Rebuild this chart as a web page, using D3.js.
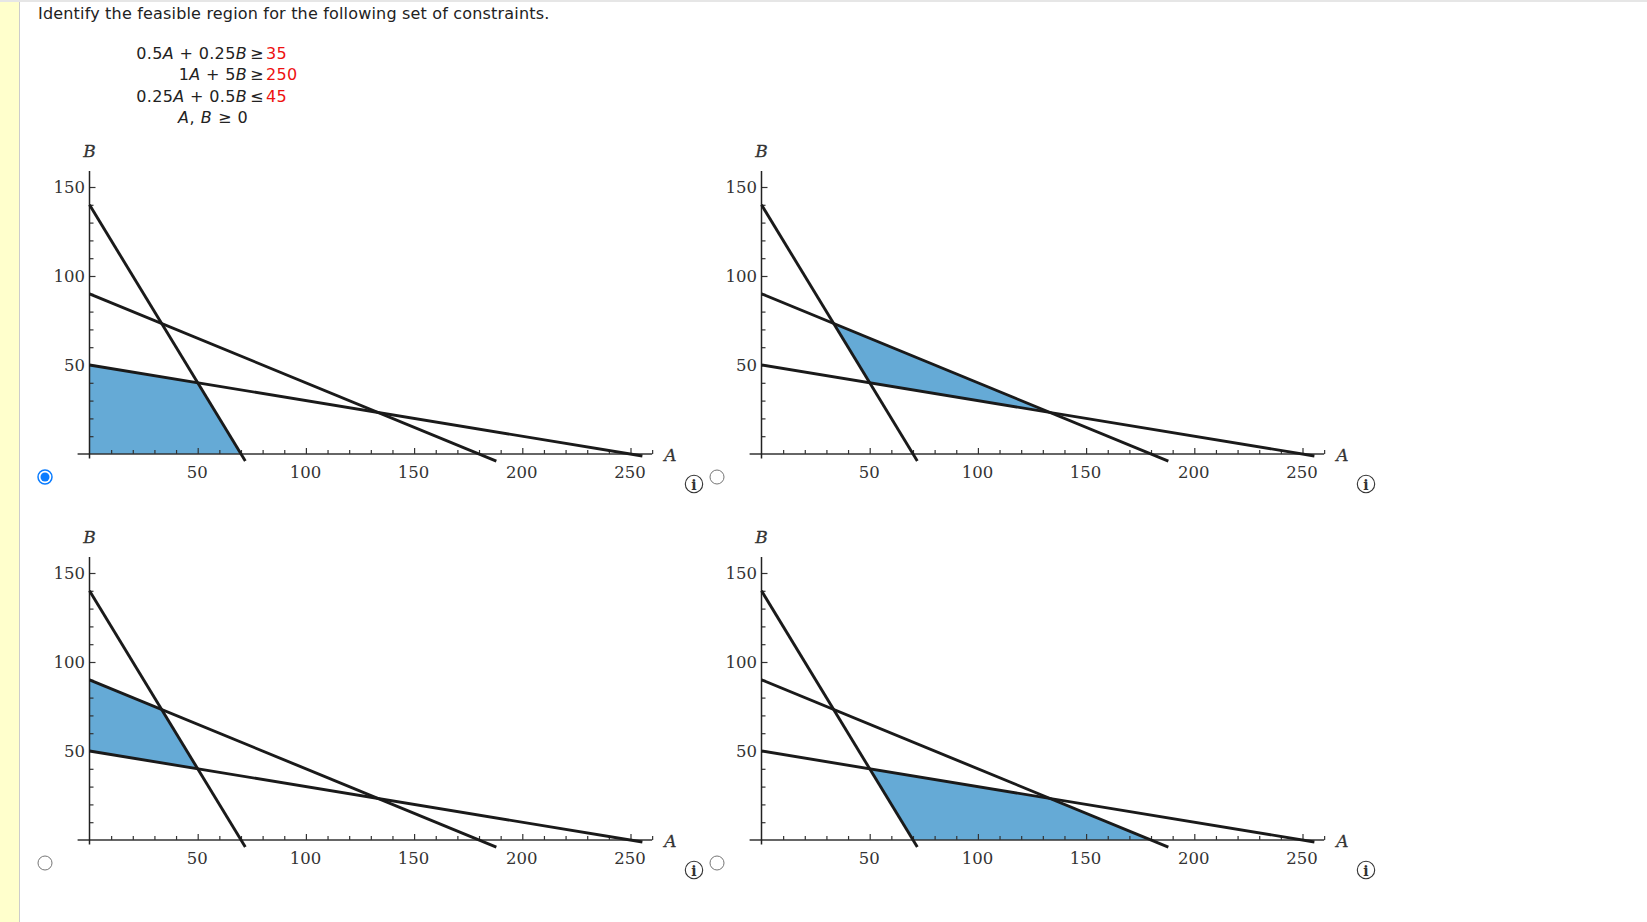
<!DOCTYPE html>
<html>
<head>
<meta charset="utf-8">
<script src="https://cdn.jsdelivr.net/npm/d3@7"></script>
<style>
html, body { margin: 0; padding: 0; background: #fff; overflow: hidden; }
text { font-family: "DejaVu Sans", sans-serif; }
.axname { font-family: "DejaVu Serif", serif; }
</style>
</head>
<body>
<svg id="page" width="1647" height="922"></svg>
<script>
var question = "Identify the feasible region for the following set of constraints.";
var eqLeft = [["0.5","A"," + 0.25","B"], ["1","A"," + 5","B"], ["0.25","A"," + 0.5","B"]];
var eqSign = ["≥", "≥", "≤"];
var eqRight = ["35", "250", "45"];

var majorA = [50, 100, 150, 200, 250];
var majorB = [50, 100, 150];
var minorA = [10, 20, 30, 40, 60, 70, 80, 90, 110, 120, 130, 140, 160, 170, 180, 190, 210, 220, 230, 240, 260];
var minorB = [10, 20, 30, 40, 60, 70, 80, 90, 110, 120, 130, 140];

// constraint lines, [A, B] ends, run a little past the axis like the original
var line1 = [[0, 140], [72, -4]];
var line2 = [[0, 50], [255.5, -1.1]];
var line3 = [[0, 90], [188, -4]];

// feasible region offered in each answer
var regions = [
  [[0, 0], [0, 50], [50, 40], [70, 0]],
  [[33.3, 73.3], [133.3, 23.3], [50, 40]],
  [[0, 50], [0, 90], [33.3, 73.3], [50, 40]],
  [[50, 40], [133.3, 23.3], [180, 0], [70, 0]]
];
var panelX = [0, 672, 0, 672];
var panelY = [0, 0, 386, 386];
var selected = 0;

var svg = d3.select("#page");

svg.append("rect").attr("x", 0).attr("y", 0).attr("width", 19).attr("height", 922).attr("fill", "#ffffcc");
svg.append("rect").attr("x", 19).attr("y", 0).attr("width", 1).attr("height", 922).attr("fill", "#cccccc");
svg.append("rect").attr("x", 0).attr("y", 0).attr("width", 1647).attr("height", 2).attr("fill", "#e6e6e6");

svg.append("text").attr("x", 38).attr("y", 19).attr("font-size", 16).attr("letter-spacing", 0.18).attr("fill", "#222").text(question);

var rowY = [58.5, 80, 101.5];
eqLeft.forEach(function(parts, i) {
  var t = svg.append("text").attr("x", 247).attr("y", rowY[i]).attr("text-anchor", "end").attr("font-size", 16)
    .attr("letter-spacing", 0.35).attr("fill", "#222");
  parts.forEach(function(p, j) {
    t.append("tspan").attr("font-style", j % 2 ? "italic" : "normal").text(p);
  });
  svg.append("text").attr("x", 250).attr("y", rowY[i]).attr("font-size", 16).attr("fill", "#222").text(eqSign[i]);
  svg.append("text").attr("x", 266).attr("y", rowY[i]).attr("font-size", 16).attr("letter-spacing", 0.3).attr("fill", "#ee1111").text(eqRight[i]);
});
var last = svg.append("text").attr("x", 178).attr("y", 123).attr("font-size", 16).attr("letter-spacing", 0.55).attr("fill", "#222");
last.append("tspan").attr("font-style", "italic").text("A");
last.append("tspan").text(", ");
last.append("tspan").attr("font-style", "italic").text("B");
last.append("tspan").text(" ≥ 0");

var x = d3.scaleLinear().domain([0, 250]).range([89.5, 630.5]);
var y = d3.scaleLinear().domain([0, 150]).range([454, 187]);

function drawPanel(i) {
  var g = svg.append("g").attr("transform", "translate(" + panelX[i] + "," + panelY[i] + ")");

  g.append("polygon")
    .attr("points", regions[i].map(function(d) { return x(d[0]) + "," + y(d[1]); }).join(" "))
    .attr("fill", "#65aad6");

  // axes, minor ticks first
  var ax = g.append("g").attr("transform", "translate(0," + y(0) + ")");
  ax.append("g").call(d3.axisTop(x).tickValues(minorA).tickSize(4).tickFormat(""));
  ax.append("g").call(d3.axisTop(x).tickValues(majorA).tickSize(6).tickFormat(""));
  ax.selectAll(".domain").remove();
  ax.append("line").attr("x1", x(-5.5)).attr("x2", x(260)).attr("stroke", "#333").attr("stroke-width", 1.4);
  ax.selectAll(".tick line").attr("stroke", "#333").attr("stroke-width", 1.2);

  var ay = g.append("g").attr("transform", "translate(" + x(0) + ",0)");
  ay.append("g").call(d3.axisRight(y).tickValues(minorB).tickSize(4).tickFormat(""));
  ay.append("g").call(d3.axisRight(y).tickValues(majorB).tickSize(6).tickFormat(""));
  ay.selectAll(".domain").remove();
  ay.append("line").attr("y1", y(-2.5)).attr("y2", y(159)).attr("stroke", "#222").attr("stroke-width", 1.5);
  ay.selectAll(".tick line").attr("stroke", "#333").attr("stroke-width", 1.2);

  majorA.forEach(function(v) {
    g.append("text").attr("class", "axname").attr("x", x(v) - 0.5).attr("y", 478).attr("text-anchor", "middle")
      .attr("font-size", 16.5).attr("fill", "#333").text(v);
  });
  majorB.forEach(function(v) {
    g.append("text").attr("class", "axname").attr("x", 85).attr("y", y(v) + 6).attr("text-anchor", "end")
      .attr("font-size", 16.5).attr("fill", "#333").text(v);
  });
  g.append("text").attr("class", "axname").attr("x", 670.5).attr("y", 460.5).attr("text-anchor", "middle")
    .attr("font-size", 17).attr("font-style", "italic").attr("fill", "#333").attr("stroke", "#333").attr("stroke-width", 0.3).text("A");
  g.append("text").attr("class", "axname").attr("x", 89.5).attr("y", 157).attr("text-anchor", "middle")
    .attr("font-size", 17).attr("font-style", "italic").attr("fill", "#333").attr("stroke", "#333").attr("stroke-width", 0.3).text("B");

  var lineGen = d3.line().x(function(d) { return x(d[0]); }).y(function(d) { return y(d[1]); });
  [line1, line2, line3].forEach(function(l) {
    g.append("path").attr("d", lineGen(l)).attr("fill", "none").attr("stroke", "#1a1a1a").attr("stroke-width", 2.9);
  });

  // radio
  g.append("circle").attr("cx", 45).attr("cy", 477).attr("r", 7).attr("fill", "#fff")
    .attr("stroke", i === selected ? "#0a7cff" : "#767676").attr("stroke-width", i === selected ? 1.5 : 1);
  if (i === selected) {
    g.append("circle").attr("cx", 45).attr("cy", 477).attr("r", 4.5).attr("fill", "#0a7cff");
  }

  // info icon
  g.append("circle").attr("cx", 694).attr("cy", 484).attr("r", 8.7).attr("fill", "#fff").attr("stroke", "#333").attr("stroke-width", 1.1);
  g.append("text").attr("class", "axname").attr("x", 694).attr("y", 490).attr("text-anchor", "middle")
    .attr("font-size", 14).attr("font-weight", "bold").attr("fill", "#333").text("i");
}

regions.forEach(function(r, i) { drawPanel(i); });
</script>
</body>
</html>
